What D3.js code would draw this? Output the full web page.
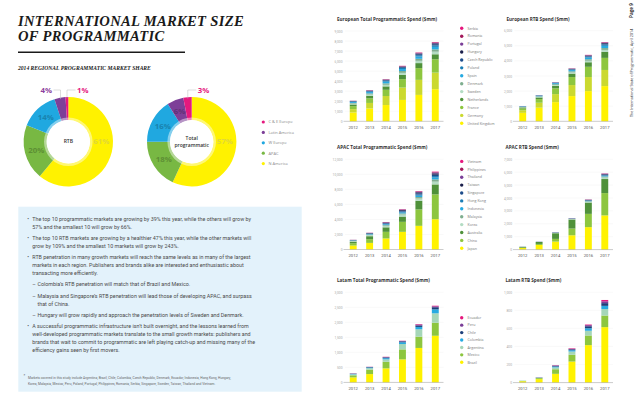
<!DOCTYPE html>
<html>
<head>
<meta charset="utf-8">
<title>International Market Size of Programmatic</title>
<script src="https://cdnjs.cloudflare.com/ajax/libs/d3/7.8.5/d3.min.js"></script>
<style>
  body { margin: 0; background: #fff; }
  svg { display: block; font-family: "Open Sans", sans-serif; }
</style>
</head>
<body>
<svg id="page" width="638" height="410"></svg>
<script>
// ---- data ----
var years = ["2012", "2013", "2014", "2015", "2016", "2017"];

// donut order: clockwise from 12 o'clock
var shareRegions = ["N America", "APAC", "W Europe", "Latin America", "C & E Europe"];
var rtbShare = [61, 20, 14, 4, 1];
var totalShare = [57, 18, 16, 6, 3];

var euCountries = ["United Kingdom", "Germany", "France", "Netherlands", "Sweden", "Denmark",
  "Spain", "Poland", "Czech Republic", "Hungary", "Portugal", "Romania", "Serbia"];
var euTotal = [
  [880, 1280, 1620, 2130, 2630, 3200],
  [330, 550, 900, 1230, 1500, 1650],
  [300, 460, 620, 840, 1170, 1330],
  [170, 260, 340, 430, 500, 500],
  [80, 120, 160, 200, 230, 260],
  [70, 110, 140, 180, 200, 230],
  [90, 130, 170, 200, 230, 250],
  [50, 70, 90, 110, 130, 150],
  [30, 45, 60, 75, 90, 110],
  [20, 30, 40, 50, 70, 90],
  [15, 20, 25, 35, 45, 55],
  [10, 15, 20, 30, 40, 50],
  [5, 10, 15, 20, 25, 30]
];
var euRtb = [
  [560, 900, 1270, 1670, 2000, 2330],
  [170, 330, 530, 730, 930, 1070],
  [120, 240, 380, 530, 680, 800],
  [70, 110, 170, 230, 300, 400],
  [20, 40, 55, 75, 100, 130],
  [20, 35, 55, 75, 100, 120],
  [25, 40, 60, 80, 110, 150],
  [10, 15, 25, 40, 60, 80],
  [5, 10, 15, 25, 40, 60],
  [3, 5, 10, 20, 30, 45],
  [3, 5, 8, 15, 25, 30],
  [2, 3, 5, 10, 15, 20],
  [1, 2, 3, 5, 10, 15]
];

var apacCountries = ["Japan", "China", "Australia", "Korea", "Malaysia", "Indonesia",
  "Hong Kong", "Singapore", "Taiwan", "Thailand", "Philippines", "Vietnam"];
var apacTotal = [
  [530, 880, 1470, 2350, 3150, 4030],
  [300, 490, 880, 1330, 2180, 3300],
  [220, 400, 600, 700, 1150, 1330],
  [80, 140, 200, 280, 300, 370],
  [40, 70, 100, 140, 200, 300],
  [30, 60, 90, 120, 180, 240],
  [30, 60, 90, 120, 160, 200],
  [20, 50, 80, 110, 150, 190],
  [20, 40, 70, 100, 140, 170],
  [10, 20, 40, 60, 80, 100],
  [5, 10, 20, 30, 50, 70],
  [5, 10, 20, 30, 40, 60]
];
var apacRtb = [
  [120, 360, 620, 1110, 1740, 2650],
  [30, 80, 210, 520, 1030, 1730],
  [60, 150, 440, 700, 880, 1090],
  [5, 10, 20, 30, 60, 120],
  [3, 5, 15, 20, 40, 80],
  [2, 3, 8, 12, 30, 50],
  [2, 3, 8, 10, 25, 45],
  [2, 3, 8, 10, 25, 45],
  [2, 3, 8, 10, 25, 40],
  [1, 2, 4, 5, 15, 30],
  [1, 1, 2, 3, 8, 15],
  [1, 1, 2, 3, 7, 10]
];

var latamCountries = ["Brazil", "Mexico", "Argentina", "Colombia", "Chile", "Peru", "Ecuador"];
var latamTotal = [
  [167, 277, 467, 767, 1147, 1553],
  [70, 150, 220, 333, 376, 434],
  [30, 45, 80, 177, 244, 313],
  [15, 25, 40, 60, 80, 133],
  [10, 15, 25, 30, 50, 70],
  [5, 5, 15, 15, 30, 30],
  [3, 3, 6, 5, 16, 20]
];
var latamRtb = [
  [15, 38, 97, 233, 415, 614],
  [4, 12, 51, 75, 107, 129],
  [2, 5, 20, 36, 52, 71],
  [1, 2, 10, 15, 28, 36],
  [0, 1, 8, 10, 22, 30],
  [0, 1, 5, 6, 12, 20],
  [0, 1, 2, 5, 7, 15]
];

var bullets = [
  [0, "The top 10 programmatic markets are growing by 39% this year, while the others will grow by", "57% and the smallest 10 will grow by 66%."],
  [0, "The top 10 RTB markets are growing by a healthier 47% this year, while the other markets will", "grow by 109% and the smallest 10 markets will grow by 243%."],
  [0, "RTB penetration in many growth markets will reach the same levels as in many of the largest", "markets in each region. Publishers and brands alike are interested and enthusiastic about", "transacting more efficiently."],
  [1, "Colombia\u2019s RTB penetration will match that of Brazil and Mexico."],
  [1, "Malaysia and Singapore\u2019s RTB penetration will lead those of developing APAC, and surpass", "that of China."],
  [1, "Hungary will grow rapidly and approach the penetration levels of Sweden and Denmark."],
  [0, "A successful programmatic infrastructure isn\u2019t built overnight, and the lessons learned from", "well-developed programmatic markets translate to the small growth markets: publishers and", "brands that wait to commit to programmatic are left playing catch-up and missing many of the", "efficiency gains seen by first movers."]
];
var footnote = [
  "Markets covered in this study include Argentina, Brazil, Chile, Colombia, Czech Republic, Denmark, Ecuador, Indonesia, Hong Kong, Hungary,",
  "Korea, Malaysia, Mexico, Peru, Poland, Portugal, Philippines, Romania, Serbia, Singapore, Sweden, Taiwan, Thailand and Vietnam."
];

// ---- palettes ----
var regionColors = ["#fff200", "#78b843", "#20a8e0", "#7d3f98", "#e5197e"];
var euColors = ["#fff200", "#cbd92f", "#8dc63f", "#4f913a", "#b3dcc3", "#7fae8f",
  "#27aae1", "#1a7db5", "#1d4c8a", "#1b1f4b", "#7b3f98", "#a3195b", "#e5197e"];
var apacColors = ["#fff200", "#8dc63f", "#4f913a", "#b3dcc3", "#7fae8f", "#27aae1",
  "#1a7db5", "#1d4c8a", "#1b1f4b", "#7b3f98", "#a3195b", "#e5197e"];
var latamColors = ["#fff200", "#8dc63f", "#a5d6b8", "#27aae1", "#1d3f7a", "#7b3f98", "#e5197e"];

var svg = d3.select("#page");

// ---- left page ----
var head = svg.append("g").attr("font-family", "'Liberation Serif', serif")
  .attr("font-weight", "bold").attr("font-style", "italic").attr("fill", "#1a1a1a");
head.append("text").attr("x", 18).attr("y", 26).attr("font-size", 14.6)
  .attr("letter-spacing", 0.3).text("INTERNATIONAL MARKET SIZE");
head.append("text").attr("x", 18).attr("y", 41.2).attr("font-size", 14.6)
  .attr("letter-spacing", 0.3).text("OF PROGRAMMATIC");
svg.append("line").attr("x1", 18).attr("x2", 185).attr("y1", 52.3).attr("y2", 52.3)
  .attr("stroke", "#1a1a1a").attr("stroke-width", 1.6);
head.append("text").attr("x", 18).attr("y", 70).attr("font-size", 5.6)
  .text("2014 REGIONAL PROGRAMMATIC MARKET SHARE");

function drawDonut(cx, cy, values, centerLines) {
  var g = svg.append("g").attr("transform", "translate(" + cx + "," + cy + ")");
  var rOut = 44.7, rIn = 21.7;
  var pie = d3.pie().sort(null).value(function(d) { return d; });
  var arcs = pie(values);
  var arc = d3.arc().innerRadius(rIn).outerRadius(rOut);
  var labelArc = d3.arc().innerRadius(33).outerRadius(33);
  g.selectAll("path.slice").data(arcs).enter().append("path")
    .attr("class", "slice").attr("d", arc)
    .attr("fill", function(d, i) { return regionColors[i]; });
  g.append("path").attr("d", d3.arc().innerRadius(rIn).outerRadius(rIn + 2.6)({startAngle: 0, endAngle: 2 * Math.PI}))
    .attr("fill", "#fff").attr("opacity", 0.45);
  g.append("circle").attr("r", rIn).attr("fill", "#fff");

  arcs.forEach(function(d, i) {
    var col = d3.color(regionColors[i]).darker(0.7).formatHex();
    var lab = d.value + "%";
    if (d.value >= 5) {
      var pos = i === 0 ? [33, 0] : labelArc.centroid(d);
      g.append("text").attr("x", pos[0]).attr("y", pos[1]).attr("dy", "0.35em")
        .attr("text-anchor", "middle").attr("font-size", 7.8).attr("font-weight", 700)
        .attr("fill", i === 0 ? "#e2d838" : col).text(lab);
    } else {
      var mid = (d.startAngle + d.endAngle) / 2;
      var px = rOut * Math.sin(mid) * 0.93, py = -rOut * Math.cos(mid) * 0.97;
      var toRight = i === arcs.length - 1;
      var lineY = -51.7;
      var ex = px + (toRight ? 8.5 : -7);
      var labCol = i === arcs.length - 1 ? "#e5197e" : "#8e3f9e";
      g.append("polyline")
        .attr("points", [[px, py], [px, lineY], [ex, lineY]].join(" "))
        .attr("fill", "none").attr("stroke", "#bbb").attr("stroke-width", 0.5);
      g.append("text").attr("x", ex + (toRight ? 1.5 : -1.5)).attr("y", lineY).attr("dy", "0.35em")
        .attr("text-anchor", toRight ? "start" : "end").attr("font-size", 7.8).attr("font-weight", 700)
        .attr("fill", labCol).text(lab);
    }
  });
  centerLines.forEach(function(t, k) {
    g.append("text").attr("x", 0).attr("y", (k - (centerLines.length - 1) / 2) * 7.5).attr("dy", "0.35em")
      .attr("text-anchor", "middle").attr("font-size", 5).attr("font-weight", 600)
      .attr("fill", "#333").text(t);
  });
}
drawDonut(68.3, 141.7, rtbShare, ["RTB"]);
drawDonut(191.7, 141.7, totalShare, ["Total", "programmatic"]);

// region legend, reversed order
var regLegend = svg.append("g");
shareRegions.slice().reverse().forEach(function(r, k) {
  var i = shareRegions.length - 1 - k;
  regLegend.append("circle").attr("cx", 263.3).attr("cy", 122 + k * 10.4).attr("r", 1.6).attr("fill", regionColors[i]);
  regLegend.append("text").attr("x", 268.5).attr("y", 122 + k * 10.4).attr("dy", "0.35em")
    .attr("font-size", 4).attr("fill", "#888").text(r);
});

// text box
svg.append("rect").attr("x", 18.3).attr("y", 206.7).attr("width", 283.4).attr("height", 185)
  .attr("fill", "#e3f2fb");
var tb = svg.append("g").attr("font-family", "Roboto, sans-serif").attr("font-size", 5.35).attr("fill", "#4a4a4a");
var ty = 219;
bullets.forEach(function(b, k) {
  var indent = b[0];
  if (k > 0) ty += (indent === 1 || bullets[k - 1][0] === 1) ? 3.3 : 3.1;
  if (indent === 0) tb.append("text").attr("x", 27.3).attr("y", ty).attr("dy", "0.35em").text("\u2022");
  else tb.append("text").attr("x", 32.3).attr("y", ty).attr("dy", "0.35em").text("\u2013");
  b.slice(1).forEach(function(line, j) {
    tb.append("text").attr("x", indent === 0 ? 32.3 : 37.5).attr("y", ty).attr("dy", "0.35em").text(line);
    if (j < b.length - 2) ty += 8;
  });
  ty += 8;
});
tb.append("text").attr("x", 23.5).attr("y", 376.5).attr("font-size", 4).text("*");
footnote.forEach(function(line, k) {
  tb.append("text").attr("x", 28).attr("y", 378 + k * 5.6).attr("dy", "0.35em")
    .attr("font-size", 3.3).attr("fill", "#666").text(line);
});

// ---- right page: stacked bar charts ----
var charts = [
  {title: "European Total Programmatic Spend ($mm)", data: euTotal, colors: euColors, x0: 345, tx: 337, ty: 19.5, yt: 31, yb: 121.3, max: 9000, step: 1000},
  {title: "European RTB Spend ($mm)", data: euRtb, colors: euColors, x0: 514.5, tx: 506.5, ty: 19.5, yt: 30.7, yb: 121.3, max: 6000, step: 1000},
  {title: "APAC Total Programmatic Spend ($mm)", data: apacTotal, colors: apacColors, x0: 345, tx: 337, ty: 147.3, yt: 159.3, yb: 249.5, max: 12000, step: 2000},
  {title: "APAC RTB Spend ($mm)", data: apacRtb, colors: apacColors, x0: 514.5, tx: 505.5, ty: 147.3, yt: 159.3, yb: 249.6, max: 7000, step: 1000},
  {title: "Latam Total Programmatic Spend ($mm)", data: latamTotal, colors: latamColors, x0: 345, tx: 337, ty: 280.7, yt: 292.3, yb: 382.4, max: 3000, step: 500},
  {title: "Latam RTB Spend ($mm)", data: latamRtb, colors: latamColors, x0: 514.5, tx: 505.5, ty: 280.7, yt: 292.3, yb: 382.6, max: 1000, step: 200}
];

charts.forEach(function(c) {
  var g = svg.append("g");
  var x = d3.scaleBand().domain(years).range([c.x0, c.x0 + 98.5]).paddingInner(0.58).paddingOuter(0.29);
  var y = d3.scaleLinear().domain([0, c.max]).range([c.yb, c.yt]);
  var keys = d3.range(c.data.length);
  var rows = years.map(function(yr, j) {
    var r = {year: yr};
    keys.forEach(function(k) { r[k] = c.data[k][j]; });
    return r;
  });
  var series = d3.stack().keys(keys)(rows);
  var ticks = d3.range(0, c.max + 1, c.step);

  g.selectAll("line.grid").data(ticks.slice(1)).enter().append("line")
    .attr("x1", c.x0).attr("x2", c.x0 + 98.5)
    .attr("y1", function(d) { return y(d); }).attr("y2", function(d) { return y(d); })
    .attr("stroke", "#f0f0f0").attr("stroke-width", 0.4);

  g.selectAll("g.layer").data(series).enter().append("g")
    .attr("fill", function(s) { return c.colors[s.key]; })
    .selectAll("rect").data(function(s) { return s; }).enter().append("rect")
    .attr("x", function(d) { return x(d.data.year); })
    .attr("width", x.bandwidth())
    .attr("y", function(d) { return y(d[1]); })
    .attr("height", function(d) { return y(d[0]) - y(d[1]); });

  var ya = g.append("g").attr("transform", "translate(" + (c.x0 - 2.5) + ",0)")
    .call(d3.axisLeft(y).tickValues(ticks).tickSize(0).tickPadding(0).tickFormat(d3.format(",")));
  ya.select(".domain").remove();
  ya.selectAll("text").attr("font-size", 3.3).attr("fill", "#aaa").attr("font-family", "Roboto, sans-serif");

  var xa = g.append("g").attr("transform", "translate(0," + c.yb + ")")
    .call(d3.axisBottom(x).tickSize(0).tickPadding(4.6));
  xa.select(".domain").attr("stroke", "#999").attr("stroke-width", 0.5)
    .attr("d", "M" + (c.x0 - 1.5) + ",0H" + (c.x0 + 98.5));
  xa.selectAll("text").attr("font-size", 4.2).attr("fill", "#555").attr("font-family", "Roboto, sans-serif");

  g.append("text").attr("x", c.tx).attr("y", c.ty).attr("dy", "0.35em")
    .attr("font-size", 4.6).attr("font-weight", 700).attr("fill", "#333").text(c.title);
});

// legends between the chart columns
var legends = [
  {names: euCountries, colors: euColors, y0: 123.3, dy: 7.92},
  {names: apacCountries, colors: apacColors, y0: 248.3, dy: 7.9},
  {names: latamCountries, colors: latamColors, y0: 362.3, dy: 7.43}
];
legends.forEach(function(l) {
  var g = svg.append("g");
  l.names.forEach(function(n, i) {
    var yy = l.y0 - i * l.dy;
    g.append("circle").attr("cx", 461.7).attr("cy", yy).attr("r", 1.7).attr("fill", l.colors[i]);
    g.append("text").attr("x", 467.5).attr("y", yy).attr("dy", "0.35em")
      .attr("font-size", 3.6).attr("fill", "#777").text(n);
  });
});

// page marker on the right edge
svg.append("text").attr("transform", "translate(633,18) rotate(-90)")
  .attr("font-size", 4.6).attr("font-weight", 700).attr("fill", "#333").text("Page 9");
svg.append("text").attr("transform", "translate(633,117) rotate(-90)")
  .attr("font-size", 3.7).attr("fill", "#333").text("The International State of Programmatic, April 2014");
</script>
</body>
</html>
